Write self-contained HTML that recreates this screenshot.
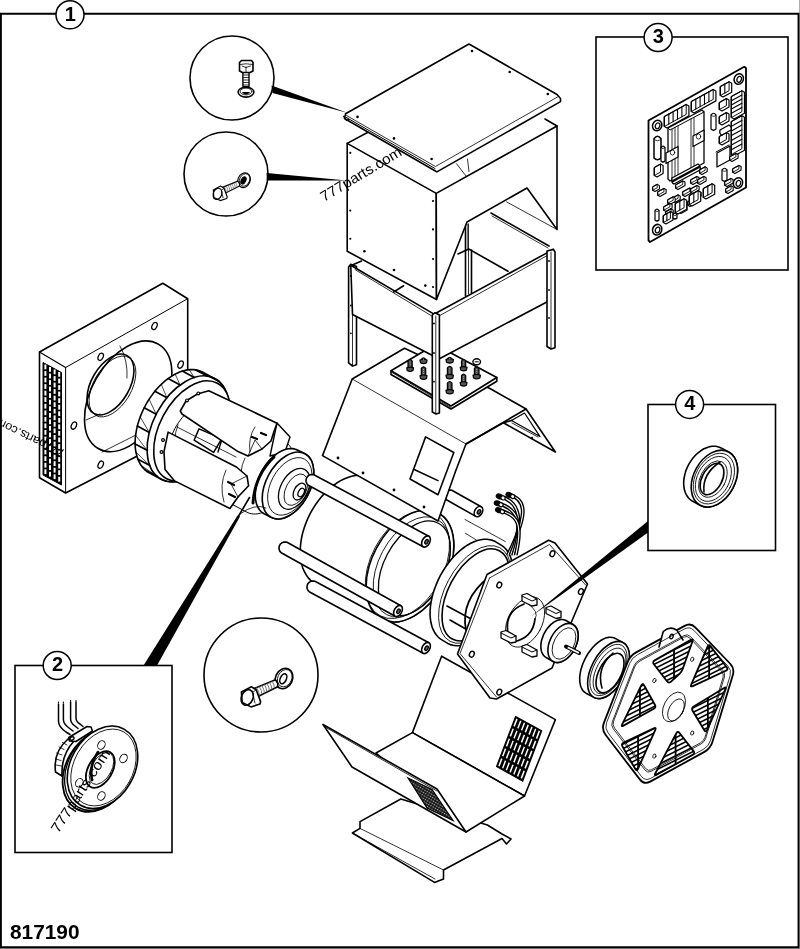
<!DOCTYPE html>
<html><head><meta charset="utf-8">
<style>
html,body{margin:0;padding:0;background:#fff;width:800px;height:949px;overflow:hidden}
svg{display:block;will-change:transform}
.k{fill:none;stroke:#000;stroke-width:1.6;stroke-linejoin:round;stroke-linecap:round}
.w{fill:#fff;stroke:#000;stroke-width:1.6;stroke-linejoin:round;stroke-linecap:round}
.t{fill:none;stroke:#000;stroke-width:0.8;stroke-linecap:round}
.tw{fill:#fff;stroke:#000;stroke-width:0.8}
.b{fill:#000;stroke:none}
.bk{fill:#000;stroke:#000;stroke-width:1}
.num{font-family:"Liberation Sans",sans-serif;font-weight:bold;font-size:19px;fill:#000}
.wm{font-family:"Liberation Sans",sans-serif;font-size:14px;fill:#000}
</style></head>
<body>
<svg width="800" height="949" viewBox="0 0 800 949">
<rect x="0" y="948" width="800" height="1" fill="#999"/><rect x="799.2" y="0" width="0.8" height="949" fill="#999"/>
<path class="k" d="M0.9,947.2 V13.8 H798.5 V947.2 Z" style="stroke-width:1.9;stroke-linejoin:miter"/>
<rect class="k" style="stroke-linejoin:miter" x="596" y="37" width="192" height="233"/>
<rect class="k" style="stroke-linejoin:miter" x="648" y="404.5" width="127.5" height="146"/>
<rect class="k" style="stroke-linejoin:miter" x="15" y="665.5" width="157" height="187"/>
<circle class="k" cx="232" cy="78" r="42"/>
<circle class="k" cx="226" cy="174" r="42"/>
<circle class="k" cx="261" cy="675" r="57"/>
<path class="b" d="M271.5,85.5 L272.5,93 L348,113 Z"/>
<path class="b" d="M266.5,173 L267,180.5 L347,180.5 Z"/>
<path class="w" d="M39.5,352.0 L162.8,283.3 L187.7,298.7 L187.7,430.0 L65.6,493.0 L39.5,477.7 Z"/><path class="k" d="M39.5,352.0 L65.6,367.5" style="stroke-width:1.2"/><path class="k" d="M65.6,367.5 L187.7,298.7" style="stroke-width:1.0"/><path class="k" d="M65.6,367.5 L65.6,493.0" style="stroke-width:1.0"/><path class="bk" d="M43.0,362.5 L61.5,372.5 L61.5,485.0 L43.0,475.0 Z"/><g fill="#fff" stroke="none"><rect x="44.4" y="364.5" width="2.0" height="4.8"/><rect x="44.4" y="371.1" width="2.0" height="4.8"/><rect x="44.4" y="377.6" width="2.0" height="4.8"/><rect x="44.4" y="384.1" width="2.0" height="4.8"/><rect x="44.4" y="390.7" width="2.0" height="4.8"/><rect x="44.4" y="397.2" width="2.0" height="4.8"/><rect x="44.4" y="403.8" width="2.0" height="4.8"/><rect x="44.4" y="410.4" width="2.0" height="4.8"/><rect x="44.4" y="416.9" width="2.0" height="4.8"/><rect x="44.4" y="423.4" width="2.0" height="4.8"/><rect x="44.4" y="430.0" width="2.0" height="4.8"/><rect x="44.4" y="436.6" width="2.0" height="4.8"/><rect x="44.4" y="443.1" width="2.0" height="4.8"/><rect x="44.4" y="449.6" width="2.0" height="4.8"/><rect x="44.4" y="456.2" width="2.0" height="4.8"/><rect x="44.4" y="462.8" width="2.0" height="4.8"/><rect x="44.4" y="469.3" width="2.0" height="4.8"/><rect x="49.0" y="367.0" width="2.0" height="4.8"/><rect x="49.0" y="373.6" width="2.0" height="4.8"/><rect x="49.0" y="380.1" width="2.0" height="4.8"/><rect x="49.0" y="386.6" width="2.0" height="4.8"/><rect x="49.0" y="393.2" width="2.0" height="4.8"/><rect x="49.0" y="399.8" width="2.0" height="4.8"/><rect x="49.0" y="406.3" width="2.0" height="4.8"/><rect x="49.0" y="412.9" width="2.0" height="4.8"/><rect x="49.0" y="419.4" width="2.0" height="4.8"/><rect x="49.0" y="425.9" width="2.0" height="4.8"/><rect x="49.0" y="432.5" width="2.0" height="4.8"/><rect x="49.0" y="439.1" width="2.0" height="4.8"/><rect x="49.0" y="445.6" width="2.0" height="4.8"/><rect x="49.0" y="452.1" width="2.0" height="4.8"/><rect x="49.0" y="458.7" width="2.0" height="4.8"/><rect x="49.0" y="465.2" width="2.0" height="4.8"/><rect x="49.0" y="471.8" width="2.0" height="4.8"/><rect x="53.6" y="369.5" width="2.0" height="4.8"/><rect x="53.6" y="376.1" width="2.0" height="4.8"/><rect x="53.6" y="382.6" width="2.0" height="4.8"/><rect x="53.6" y="389.1" width="2.0" height="4.8"/><rect x="53.6" y="395.7" width="2.0" height="4.8"/><rect x="53.6" y="402.2" width="2.0" height="4.8"/><rect x="53.6" y="408.8" width="2.0" height="4.8"/><rect x="53.6" y="415.4" width="2.0" height="4.8"/><rect x="53.6" y="421.9" width="2.0" height="4.8"/><rect x="53.6" y="428.4" width="2.0" height="4.8"/><rect x="53.6" y="435.0" width="2.0" height="4.8"/><rect x="53.6" y="441.6" width="2.0" height="4.8"/><rect x="53.6" y="448.1" width="2.0" height="4.8"/><rect x="53.6" y="454.6" width="2.0" height="4.8"/><rect x="53.6" y="461.2" width="2.0" height="4.8"/><rect x="53.6" y="467.8" width="2.0" height="4.8"/><rect x="53.6" y="474.3" width="2.0" height="4.8"/><rect x="58.2" y="372.0" width="2.0" height="4.8"/><rect x="58.2" y="378.6" width="2.0" height="4.8"/><rect x="58.2" y="385.1" width="2.0" height="4.8"/><rect x="58.2" y="391.6" width="2.0" height="4.8"/><rect x="58.2" y="398.2" width="2.0" height="4.8"/><rect x="58.2" y="404.8" width="2.0" height="4.8"/><rect x="58.2" y="411.3" width="2.0" height="4.8"/><rect x="58.2" y="417.9" width="2.0" height="4.8"/><rect x="58.2" y="424.4" width="2.0" height="4.8"/><rect x="58.2" y="430.9" width="2.0" height="4.8"/><rect x="58.2" y="437.5" width="2.0" height="4.8"/><rect x="58.2" y="444.1" width="2.0" height="4.8"/><rect x="58.2" y="450.6" width="2.0" height="4.8"/><rect x="58.2" y="457.1" width="2.0" height="4.8"/><rect x="58.2" y="463.7" width="2.0" height="4.8"/><rect x="58.2" y="470.2" width="2.0" height="4.8"/><rect x="58.2" y="476.8" width="2.0" height="4.8"/></g><ellipse class="k" cx="128.2" cy="396.3" rx="36.6" ry="60.2" transform="rotate(30.0 128.2 396.3)"/><ellipse class="k" cx="110.5" cy="384.5" rx="19.0" ry="33.4" transform="rotate(30.0 110.5 384.5)"/><ellipse class="t" cx="112.5" cy="386.5" rx="19.0" ry="33.4" transform="rotate(30.0 112.5 386.5)"/><path class="t" d="M86,420 L100,414 M102,452 L150,428 M120,346 Q128,360 127,378"/><ellipse class="k" cx="100.7" cy="356.8" rx="2.4" ry="3.8" transform="rotate(25.0 100.7 356.8)" style="stroke-width:1.3"/><ellipse class="k" cx="154.5" cy="326.0" rx="2.4" ry="3.8" transform="rotate(25.0 154.5 326.0)" style="stroke-width:1.3"/><ellipse class="k" cx="180.6" cy="364.6" rx="2.4" ry="3.8" transform="rotate(25.0 180.6 364.6)" style="stroke-width:1.3"/><ellipse class="k" cx="73.9" cy="425.6" rx="2.4" ry="3.8" transform="rotate(25.0 73.9 425.6)" style="stroke-width:1.3"/><ellipse class="k" cx="100.7" cy="464.7" rx="2.4" ry="3.8" transform="rotate(25.0 100.7 464.7)" style="stroke-width:1.3"/>
<path class="w" d="M149.2,472.8 L146.6,471.2 L144.3,469.2 L142.2,466.9 L140.3,464.2 L138.7,461.2 L137.4,457.9 L136.4,454.3 L135.6,450.5 L135.2,446.5 L135.1,442.3 L135.3,437.9 L135.9,433.4 L136.7,428.9 L137.8,424.3 L139.2,419.7 L140.9,415.1 L142.9,410.5 L145.1,406.1 L147.5,401.7 L150.2,397.6 L153.1,393.6 L156.1,389.8 L159.3,386.3 L162.6,383.1 L166.0,380.2 L169.5,377.6 L173.1,375.3 L176.6,373.4 L180.2,371.8 L183.7,370.7 L187.2,369.9 L190.6,369.6 L193.8,369.6 L197.0,370.1 L200.0,370.9 L202.8,372.2 L214.8,378.6 L217.4,380.2 L219.7,382.2 L221.9,384.5 L223.7,387.2 L225.3,390.2 L226.6,393.5 L227.7,397.1 L228.4,400.9 L228.8,404.9 L228.9,409.1 L228.7,413.5 L228.2,418.0 L227.3,422.5 L226.2,427.1 L224.8,431.7 L223.1,436.3 L221.1,440.9 L218.9,445.3 L216.5,449.6 L213.8,453.8 L210.9,457.8 L207.9,461.5 L204.7,465.0 L201.4,468.3 L198.0,471.2 L194.5,473.8 L190.9,476.1 L187.4,478.0 L183.8,479.5 L180.3,480.7 L176.8,481.4 L173.4,481.8 L170.2,481.8 L167.0,481.3 L164.0,480.5 L161.2,479.2 Z"/><ellipse class="k" cx="188.0" cy="428.9" rx="35.0" ry="57.0" transform="rotate(28.0 188.0 428.9)"/><path class="k" style="stroke-width:1.7" d="M145.2,470.1 L157.2,476.4 M137.9,459.2 L149.9,465.6 M135.1,444.0 L147.1,450.3 M137.3,426.1 L149.3,432.5 M144.2,407.8 L156.2,414.2 M154.9,391.3 L166.9,397.7 M168.1,378.6 L180.1,385.0 M182.3,371.1 L194.3,377.5 M195.7,369.9 L207.8,376.2 M206.8,374.9 L218.8,381.3"/><path class="t" style="stroke-width:0.7" d="M157.2,476.4 L141.0,465.3 M149.9,465.6 L135.9,452.0 M147.1,450.3 L135.6,435.2 M149.3,432.5 L140.2,416.9 M156.2,414.2 L149.1,399.2 M166.9,397.7 L161.3,384.4 M180.1,385.0 L175.2,374.1 M194.3,377.5 L189.2,369.7 M207.8,376.2 L201.7,371.6"/><ellipse class="w" cx="192.0" cy="431.0" rx="32.5" ry="54.0" transform="rotate(28.0 192.0 431.0)"/><path class="w" d="M177.2,475.3 L175.4,474.2 L173.8,472.8 L172.4,471.2 L171.1,469.3 L170.0,467.2 L169.1,465.0 L168.5,462.5 L168.0,459.8 L167.7,457.0 L167.7,454.1 L167.9,451.0 L168.3,447.9 L168.9,444.7 L169.7,441.5 L170.7,438.3 L171.9,435.0 L173.3,431.9 L174.8,428.7 L176.5,425.7 L178.4,422.8 L180.4,420.0 L182.5,417.3 L184.7,414.9 L187.0,412.6 L189.4,410.5 L191.8,408.7 L194.3,407.1 L196.8,405.7 L199.2,404.6 L201.7,403.8 L204.1,403.2 L206.4,403.0 L208.7,403.0 L210.8,403.3 L212.9,403.8 L214.8,404.7 L284.8,441.7 L286.6,442.8 L288.2,444.2 L289.6,445.8 L290.9,447.7 L292.0,449.8 L292.9,452.0 L293.5,454.5 L294.0,457.2 L294.3,460.0 L294.3,462.9 L294.1,466.0 L293.7,469.1 L293.1,472.3 L292.3,475.5 L291.3,478.7 L290.1,482.0 L288.7,485.1 L287.2,488.3 L285.5,491.3 L283.6,494.2 L281.6,497.0 L279.5,499.7 L277.3,502.1 L275.0,504.4 L272.6,506.5 L270.2,508.3 L267.7,509.9 L265.2,511.3 L262.8,512.4 L260.3,513.2 L257.9,513.8 L255.6,514.0 L253.3,514.0 L251.2,513.7 L249.1,513.2 L247.2,512.3 Z" style="stroke-width:1"/><path class="t" d="M178,425 Q172,440 177,452 M245,458 Q238,472 243,486"/><path class="k" d="M194.1,440.2 L199.0,428.9 L221.8,438.6 L213.6,452.4 Z" style="stroke-width:1.5"/><path class="t" d="M177.0,427.0 L236.0,457.0"/><path class="t" d="M182.0,447.0 L238.0,474.0"/><path class="k" d="M222.0,439.0 L218.0,452.0" style="stroke-width:1.4"/><path class="w" d="M277.0,423.0 L290.0,437.0 L285.0,452.0 L270.0,456.0 Z" style="stroke-width:1.4"/><path class="w" d="M180.3,411.0 L186.0,401.0 L197.4,394.0 L208.8,390.7 L277.0,423.2 L273.8,432.0 L271.0,441.0 L262.0,449.0 L248.0,456.0 L238.0,451.6 L182.0,414.0 Z"/><path class="t" d="M255,427 Q248,437 250,452 M248,456 L255,440 L262,449"/><path class="k" style="stroke-width:2.2" d="M252,437 L257,439 M261,433 L266,435"/><circle class="w" style="stroke-width:1.2" cx="187" cy="400.4" r="1.4"/><circle class="w" style="stroke-width:1.2" cx="198.3" cy="393.4" r="1.4"/><path class="w" d="M168.1,432.1 L236.4,467.0 L247.0,476.0 L248.6,485.8 L238.0,497.0 L229.9,508.5 L174.6,480.9 L165.0,469.5 L164.0,451.6 Z"/><path class="t" d="M226,470 Q219,485 224,502 M238,497 L231,484 L247,476"/><path class="k" style="stroke-width:2.2" d="M228,482 L234,485 M229,494 L235,497"/><circle class="w" style="stroke-width:1.2" cx="163" cy="440" r="1.4"/><circle class="w" style="stroke-width:1.2" cx="161.5" cy="452" r="1.4"/><path class="w" d="M264.1,513.8 L262.5,512.8 L261.0,511.5 L259.6,510.0 L258.5,508.3 L257.5,506.4 L256.7,504.4 L256.0,502.1 L255.6,499.7 L255.3,497.2 L255.3,494.5 L255.4,491.8 L255.7,488.9 L256.3,486.1 L257.0,483.2 L257.9,480.3 L258.9,477.3 L260.2,474.5 L261.6,471.7 L263.1,468.9 L264.8,466.3 L266.6,463.8 L268.5,461.4 L270.5,459.2 L272.6,457.2 L274.8,455.3 L277.0,453.7 L279.2,452.2 L281.5,451.0 L283.7,450.0 L285.9,449.3 L288.1,448.8 L290.2,448.6 L292.3,448.6 L294.3,448.9 L296.1,449.4 L297.9,450.2 L304.9,453.7 L306.5,454.7 L308.0,456.0 L309.4,457.5 L310.5,459.2 L311.5,461.1 L312.3,463.1 L313.0,465.4 L313.4,467.8 L313.7,470.3 L313.7,473.0 L313.6,475.7 L313.3,478.6 L312.7,481.4 L312.0,484.3 L311.1,487.2 L310.1,490.2 L308.8,493.0 L307.4,495.8 L305.9,498.6 L304.2,501.2 L302.4,503.7 L300.5,506.1 L298.5,508.3 L296.4,510.3 L294.2,512.2 L292.0,513.8 L289.8,515.3 L287.5,516.5 L285.3,517.5 L283.1,518.2 L280.9,518.7 L278.8,518.9 L276.7,518.9 L274.7,518.6 L272.9,518.1 L271.1,517.3 Z"/><ellipse class="w" cx="288.0" cy="485.5" rx="22.0" ry="36.0" transform="rotate(28.0 288.0 485.5)"/><ellipse class="t" cx="289.8" cy="486.4" rx="19.0" ry="31.0" transform="rotate(28.0 289.8 486.4)"/><ellipse class="k" cx="294.2" cy="488.8" rx="13.5" ry="22.0" transform="rotate(28.0 294.2 488.8)" style="stroke-width:1.3"/><ellipse class="t" cx="295.9" cy="489.7" rx="10.0" ry="17.0" transform="rotate(28.0 295.9 489.7)"/><ellipse class="k" cx="299.5" cy="491.6" rx="5.5" ry="9.0" transform="rotate(28.0 299.5 491.6)" style="stroke-width:1.3"/><ellipse class="k" cx="301.2" cy="492.5" rx="2.8" ry="4.5" transform="rotate(28.0 301.2 492.5)" style="stroke-width:1.3"/><path class="k" style="stroke-width:3;stroke-dasharray:1.2 1.2" d="M253,503 Q255,475 274,457"/><path class="t" d="M240,514 Q255,503 266,508"/>
<path class="b" d="M143.5,665.5 L157,665.5 L240,516.5 L237.5,515.5 Z"/>
<path class="k" style="stroke-width:1.6" d="M238,517 L249.5,497.5"/>
<path class="w" d="M447.3,500.3 L446.5,499.7 L445.8,499.1 L445.3,498.3 L444.8,497.4 L444.6,496.5 L444.5,495.6 L444.6,494.6 L444.8,493.7 L445.2,492.8 L445.8,492.0 L446.4,491.3 L447.2,490.8 L448.1,490.3 L449.0,490.1 L449.9,490.0 L450.9,490.1 L451.8,490.3 L452.7,490.7 L481.2,506.8 L475.8,516.4 Z"/><ellipse class="w" cx="478.5" cy="511.6" rx="3.8" ry="5.5" transform="rotate(29.5 478.5 511.6)"/><ellipse class="w" cx="479.0" cy="511.9" rx="1.5" ry="2.4" transform="rotate(29.5 479.0 511.9)" style="stroke-width:1.3;fill:#666"/>
<path class="t" d="M465,519.5 L505.3,541.5 M465.4,533.3 L476.4,540"/>
<path class="w" d="M315.8,584.0 L313.0,582.2 L310.4,580.1 L308.1,577.6 L306.1,574.7 L304.3,571.5 L302.8,568.0 L301.7,564.2 L300.9,560.1 L300.4,555.8 L300.2,551.4 L300.4,546.8 L300.9,542.0 L301.7,537.2 L302.8,532.4 L304.3,527.5 L306.1,522.6 L308.1,517.8 L310.4,513.2 L313.0,508.6 L315.8,504.2 L318.9,500.1 L322.1,496.1 L325.5,492.4 L329.0,489.1 L332.7,486.0 L336.4,483.3 L340.2,480.9 L344.0,479.0 L347.8,477.4 L351.6,476.2 L355.3,475.4 L359.0,475.1 L362.5,475.2 L365.9,475.7 L369.1,476.7 L372.2,478.0 L438.2,513.0 L441.0,514.8 L443.6,516.9 L445.9,519.4 L447.9,522.3 L449.7,525.5 L451.2,529.0 L452.3,532.8 L453.1,536.9 L453.6,541.2 L453.8,545.6 L453.6,550.2 L453.1,555.0 L452.3,559.8 L451.2,564.6 L449.7,569.5 L447.9,574.4 L445.9,579.2 L443.6,583.8 L441.0,588.4 L438.2,592.8 L435.1,596.9 L431.9,600.9 L428.5,604.6 L425.0,607.9 L421.3,611.0 L417.6,613.7 L413.8,616.1 L410.0,618.0 L406.2,619.6 L402.4,620.8 L398.7,621.6 L395.0,621.9 L391.5,621.8 L388.1,621.3 L384.9,620.3 L381.8,619.0 Z"/><ellipse class="w" cx="410.0" cy="566.0" rx="38.0" ry="60.0" transform="rotate(28.0 410.0 566.0)"/><ellipse class="t" cx="407.4" cy="564.6" rx="36.5" ry="58.0" transform="rotate(28.0 407.4 564.6)"/><ellipse class="t" cx="411.8" cy="566.9" rx="33.0" ry="54.0" transform="rotate(28.0 411.8 566.9)"/><ellipse class="k" cx="414.4" cy="568.3" rx="30.5" ry="51.0" transform="rotate(28.0 414.4 568.3)" style="stroke-width:1.3"/>
<path class="w" d="M310.1,592.3 L309.3,591.7 L308.5,591.0 L307.9,590.1 L307.4,589.2 L307.1,588.2 L307.0,587.2 L307.1,586.1 L307.3,585.1 L307.7,584.1 L308.3,583.3 L309.0,582.5 L309.9,581.9 L310.8,581.4 L311.8,581.1 L312.8,581.0 L313.9,581.1 L314.9,581.3 L315.9,581.7 L428.9,642.7 L423.1,653.3 Z"/><ellipse class="w" cx="426.0" cy="648.0" rx="3.8" ry="6.0" transform="rotate(28.4 426.0 648.0)"/><ellipse class="w" cx="426.5" cy="648.3" rx="1.5" ry="2.4" transform="rotate(28.4 426.5 648.3)" style="stroke-width:1.3;fill:#666"/>
<path class="w" d="M309.2,485.8 L308.3,485.2 L307.5,484.5 L306.9,483.7 L306.4,482.7 L306.1,481.7 L306.0,480.7 L306.1,479.6 L306.3,478.6 L306.7,477.7 L307.3,476.8 L308.0,476.0 L308.8,475.4 L309.8,474.9 L310.8,474.6 L311.8,474.5 L312.9,474.6 L313.9,474.8 L314.8,475.2 L428.8,536.2 L423.2,546.8 Z"/><ellipse class="w" cx="426.0" cy="541.5" rx="3.8" ry="6.0" transform="rotate(28.2 426.0 541.5)"/><ellipse class="w" cx="426.5" cy="541.8" rx="1.5" ry="2.4" transform="rotate(28.2 426.5 541.8)" style="stroke-width:1.3;fill:#666"/>
<path class="w" d="M282.1,553.2 L281.2,552.7 L280.5,551.9 L279.8,551.1 L279.4,550.1 L279.1,549.1 L279.0,548.1 L279.1,547.0 L279.3,546.0 L279.8,545.1 L280.3,544.2 L281.1,543.5 L281.9,542.8 L282.9,542.4 L283.9,542.1 L284.9,542.0 L286.0,542.1 L287.0,542.3 L287.9,542.8 L400.9,605.8 L395.1,616.2 Z"/><ellipse class="w" cx="398.0" cy="611.0" rx="3.8" ry="6.0" transform="rotate(29.1 398.0 611.0)"/><ellipse class="w" cx="398.5" cy="611.3" rx="1.5" ry="2.4" transform="rotate(29.1 398.5 611.3)" style="stroke-width:1.3;fill:#666"/>
<path class="w" d="M352.2,379.0 L404.5,348.2 L490.4,388.7 L526.1,409.0 L555.4,452.0 L503.4,422.8 L466.0,444.0 L456.0,470.0 L438.0,521.0 L322.5,455.6 Z"/><path class="t" d="M352.2,379.0 L466.0,444.0"/><path class="k" d="M466.0,444.0 L526.1,409.0"/><path class="k" d="M503.4,422.8 L511.5,420.4"/><path class="k" d="M511.5,420.4 L524.5,413.0 L540.0,436.6 Z" style="stroke-width:1.2"/><path class="t" d="M512.0,423.0 L538.0,437.0"/><circle class="b" cx="532.0" cy="438.0" r="1.2"/><path class="k" d="M425.6,436.9 L453.8,452.5 L438.0,494.7 L410.0,479.0 Z"/><path class="k" d="M414.7,469.7 L438.0,480.6"/><circle class="b" cx="338.0" cy="458.0" r="1.4"/><circle class="b" cx="363.0" cy="473.0" r="1.4"/><circle class="b" cx="394.0" cy="490.0" r="1.4"/><circle class="b" cx="424.0" cy="507.0" r="1.4"/>
<path class="w" d="M391.0,370.8 L435.0,344.5 L496.8,377.5 L496.8,381.2 L451.0,409.0 L391.0,374.5 Z"/><path class="k" d="M391.0,370.8 L451.0,406.0 L496.8,377.5"/><path class="t" d="M392.0,372.5 L451.0,407.5"/>
<path d="M408.0,368.4 L408.0,361 Q410.1,358 412.2,361 L412.2,368.4 Z" fill="#444" stroke="#000" stroke-width="1.2"/><path d="M406.8,367.9 Q410.1,366.4 413.5,367.9 L413.0,370.59999999999997 Q410.1,372.4 407.2,370.59999999999997 Z" fill="#555" stroke="#000" stroke-width="1.2"/><path d="M410.1,361.5 V366.4" stroke="#bbb" stroke-width="0.8" stroke-dasharray="1.2 0.8"/>
<path d="M421.3,360.5 L421.3,359.3 Q423.5,356.3 425.7,359.3 L425.7,360.5 Z" fill="#444" stroke="#000" stroke-width="1.2"/><path d="M420.0,360.0 Q423.5,358.5 427.0,360.0 L426.5,362.7 Q423.5,364.5 420.5,362.7 Z" fill="#555" stroke="#000" stroke-width="1.2"/><path d="M423.5,359.8 V358.5" stroke="#bbb" stroke-width="0.8" stroke-dasharray="1.2 0.8"/>
<path d="M421.3,376.25 L421.3,368.3 Q423.5,365.3 425.7,368.3 L425.7,376.25 Z" fill="#444" stroke="#000" stroke-width="1.2"/><path d="M420.0,375.75 Q423.5,374.25 427.0,375.75 L426.5,378.45 Q423.5,380.25 420.5,378.45 Z" fill="#555" stroke="#000" stroke-width="1.2"/><path d="M423.5,368.8 V374.25" stroke="#bbb" stroke-width="0.8" stroke-dasharray="1.2 0.8"/>
<path d="M447.4,360 L447.4,358.75 Q449.7,355.75 452.0,358.75 L452.0,360 Z" fill="#444" stroke="#000" stroke-width="1.2"/><path d="M446.0,359.5 Q449.7,358 453.4,359.5 L452.9,362.2 Q449.7,364 446.5,362.2 Z" fill="#555" stroke="#000" stroke-width="1.2"/><path d="M449.7,359.25 V358" stroke="#bbb" stroke-width="0.8" stroke-dasharray="1.2 0.8"/>
<path d="M447.4,375.7 L447.4,367.75 Q449.7,364.75 452.0,367.75 L452.0,375.7 Z" fill="#444" stroke="#000" stroke-width="1.2"/><path d="M446.0,375.2 Q449.7,373.7 453.4,375.2 L452.9,377.9 Q449.7,379.7 446.5,377.9 Z" fill="#555" stroke="#000" stroke-width="1.2"/><path d="M449.7,368.25 V373.7" stroke="#bbb" stroke-width="0.8" stroke-dasharray="1.2 0.8"/>
<path d="M447.4,390.9 L447.4,383 Q449.7,380 452.0,383 L452.0,390.9 Z" fill="#444" stroke="#000" stroke-width="1.2"/><path d="M446.0,390.4 Q449.7,388.9 453.4,390.4 L452.9,393.09999999999997 Q449.7,394.9 446.5,393.09999999999997 Z" fill="#555" stroke="#000" stroke-width="1.2"/><path d="M449.7,383.5 V388.9" stroke="#bbb" stroke-width="0.8" stroke-dasharray="1.2 0.8"/>
<path d="M461.5,367.8 L461.5,361 Q463.6,358 465.7,361 L465.7,367.8 Z" fill="#444" stroke="#000" stroke-width="1.2"/><path d="M460.2,367.3 Q463.6,365.8 467.0,367.3 L466.5,370.0 Q463.6,371.8 460.7,370.0 Z" fill="#555" stroke="#000" stroke-width="1.2"/><path d="M463.6,361.5 V365.8" stroke="#bbb" stroke-width="0.8" stroke-dasharray="1.2 0.8"/>
<path d="M461.5,383 L461.5,375.6 Q463.6,372.6 465.7,375.6 L465.7,383 Z" fill="#444" stroke="#000" stroke-width="1.2"/><path d="M460.2,382.5 Q463.6,381 467.0,382.5 L466.5,385.2 Q463.6,387 460.7,385.2 Z" fill="#555" stroke="#000" stroke-width="1.2"/><path d="M463.6,376.1 V381" stroke="#bbb" stroke-width="0.8" stroke-dasharray="1.2 0.8"/>
<path d="M474.4,375.7 L474.4,368.3 Q476.7,365.3 479.0,368.3 L479.0,375.7 Z" fill="#444" stroke="#000" stroke-width="1.2"/><path d="M473.0,375.2 Q476.7,373.7 480.4,375.2 L479.9,377.9 Q476.7,379.7 473.5,377.9 Z" fill="#555" stroke="#000" stroke-width="1.2"/><path d="M476.7,368.8 V373.7" stroke="#bbb" stroke-width="0.8" stroke-dasharray="1.2 0.8"/><ellipse class="w" cx="476.7" cy="361.8" rx="3.8" ry="3.0" transform="rotate(0.0 476.7 361.8)" style="stroke-width:1.4"/><path d="M474.7,361.8 H478.7" stroke="#000" stroke-width="1"/>
<g id="frame">
<path class="k" d="M491,213 L549,246"/>
<path class="t" d="M492,216 L548,248"/>
<path class="k" d="M465.5,222 V296 M471.5,250 V293"/>
<path class="t" d="M468.5,224 V294"/>
<path class="k" d="M458,254 L468.75,249 L508,271.25"/>
<path class="w" d="M348.6,267 L350.75,264.3 L356.5,266.5 L356.5,364.7 L352.5,366 L348.6,362.9 Z"/>
<path class="t" d="M352.5,269 V366"/>
<path class="k" d="M350,266 L361.5,261"/>
<path class="w" d="M350.75,265.2 L433.2,313.6 L433,355.7 L352.5,314.5 Z"/>
<path class="t" d="M355.2,269.7 L432.3,316.3"/>
<path class="k" d="M393.7,292 L403.6,285.8"/>
<path class="w" d="M436.7,312.7 L553.4,249.4 L548.75,301 L439.4,358.75 Z"/>
<path class="t" d="M439,316 L550,254"/>
<path class="w" d="M547,251 L553.4,249.4 L555,252 L555,347.8 L551,349 L547,346.5 Z"/>
<path class="t" d="M551,252 V348"/>
<path class="w" d="M432.3,315 L435,312.7 L439.4,315 L439.4,413 L436,414 L432.3,412 Z"/>
<path class="t" d="M435.8,316 V413"/>
<g class="b"><circle cx="350.9" cy="276" r="0.9"/><circle cx="350.9" cy="305.5" r="0.9"/><circle cx="350.9" cy="333.3" r="0.9"/><circle cx="434" cy="323.5" r="0.9"/><circle cx="434" cy="353" r="0.9"/><circle cx="434" cy="381.7" r="0.9"/><circle cx="549" cy="261" r="0.9"/><circle cx="549" cy="290" r="0.9"/><circle cx="549" cy="318" r="0.9"/></g>
</g>
<g id="housing">
<path class="w" d="M347.2,143.4 L436.25,193.4 L436.5,299.5 L347.2,251.25 Z"/>
<path class="w" d="M436.25,193.4 L557,126 L557,229.5 L527,188 L467,222 L436.5,299.5 Z"/>
<path class="t" d="M506.6,201.9 L557,229.5"/>
<path class="k" d="M347.2,143.4 L367.5,132.5 M545,119 L557,126"/>
<path class="t" d="M456.5,163.75 L466,176 M467.5,159 L469,171.5 M467.8,224 V250"/>
<g class="b">
<circle cx="350.3" cy="152.8" r="1.1"/><circle cx="350.3" cy="210.6" r="1.1"/><circle cx="350.3" cy="238.75" r="1.1"/>
<circle cx="364.4" cy="251.25" r="1.3"/><circle cx="394" cy="270" r="1.3"/><circle cx="425.3" cy="285.6" r="1.3"/>
<circle cx="433" cy="201" r="1.1"/><circle cx="433" cy="229.4" r="1.1"/><circle cx="433" cy="259" r="1.1"/><circle cx="433" cy="287" r="1.1"/>
</g>
</g>
<g id="lid">
<path class="w" d="M345.6,113.75 L469,44 L557,94.5 L560.5,98.5 L560.5,101.6 L436.9,171.9 L434.5,170.5 L344.5,118.5 Z"/>
<path class="t" d="M346.5,115.5 L435.5,166.5 L557.5,97"/>
<path class="k" style="stroke-width:1" d="M345.5,117 L435,168.5"/>
<path class="k" style="stroke-width:1.3" d="M343.7,116.3 L346.5,120.5 L348.5,119.5"/>
<g class="b">
<circle cx="472" cy="51" r="1.3"/><circle cx="509.7" cy="72" r="1.3"/><circle cx="547.8" cy="94" r="1.3"/>
<circle cx="357.5" cy="116.9" r="1.3"/><circle cx="394" cy="138.4" r="1.3"/><circle cx="431.6" cy="159" r="1.3"/>
</g>
</g>
<path class="w" d="M360.0,821.6 L400.8,799.0 L487.4,825.0 L502.0,834.0 L511.0,839.0 L506.5,844.0 L502.0,838.5 L443.5,870.0 L443.5,879.0 L434.5,882.4 L352.4,833.0 L360.0,828.4 Z"/><path class="t" d="M360.0,828.4 L443.5,870.0"/><path class="t" d="M355.0,834.5 L435.0,879.0"/><path class="k" d="M360.0,821.6 L487.4,896.0" style="display:none"/>
<path class="w" d="M412.4,732.6 L441.6,656.2 L555.4,719.6 L524.5,796.0 Z"/><path class="bk" d="M515.6,716.6 L541.7,730.8 L522.7,781.1 L496.6,766.4 Z" style="stroke-width:1.2"/><path fill="#fff" d="M516.3,718.4 L517.7,719.2 L514.8,726.7 L513.4,726.0ZM520.1,720.5 L521.4,721.2 L518.5,728.8 L517.2,728.0ZM523.8,722.5 L525.1,723.2 L522.2,730.8 L520.9,730.1ZM527.5,724.5 L528.9,725.3 L526.0,732.8 L524.6,732.1ZM531.3,726.6 L532.6,727.3 L529.7,734.9 L528.4,734.1ZM535.0,728.6 L536.3,729.3 L533.4,736.9 L532.1,736.2ZM538.7,730.6 L540.1,731.3 L537.2,738.9 L535.8,738.2ZM512.5,728.4 L513.9,729.1 L511.0,736.7 L509.6,736.0ZM516.3,730.4 L517.6,731.2 L514.7,738.7 L513.4,738.0ZM520.0,732.5 L521.3,733.2 L518.4,740.8 L517.1,740.0ZM523.7,734.5 L525.1,735.2 L522.2,742.8 L520.8,742.1ZM527.5,736.5 L528.8,737.2 L525.9,744.8 L524.6,744.1ZM531.2,738.5 L532.5,739.3 L529.6,746.8 L528.3,746.1ZM534.9,740.6 L536.3,741.3 L533.4,748.9 L532.0,748.1ZM508.7,738.4 L510.1,739.1 L507.2,746.7 L505.8,745.9ZM512.5,740.4 L513.8,741.1 L510.9,748.7 L509.6,748.0ZM516.2,742.4 L517.5,743.2 L514.6,750.7 L513.3,750.0ZM519.9,744.5 L521.3,745.2 L518.4,752.7 L517.0,752.0ZM523.7,746.5 L525.0,747.2 L522.1,754.8 L520.8,754.0ZM527.4,748.5 L528.7,749.2 L525.8,756.8 L524.5,756.1ZM531.1,750.5 L532.5,751.3 L529.6,758.8 L528.2,758.1ZM504.9,748.3 L506.3,749.1 L503.4,756.6 L502.0,755.9ZM508.7,750.4 L510.0,751.1 L507.1,758.7 L505.8,757.9ZM512.4,752.4 L513.7,753.1 L510.8,760.7 L509.5,760.0ZM516.1,754.4 L517.5,755.1 L514.6,762.7 L513.2,762.0ZM519.9,756.4 L521.2,757.2 L518.3,764.7 L517.0,764.0ZM523.6,758.5 L524.9,759.2 L522.0,766.8 L520.7,766.0ZM527.3,760.5 L528.7,761.2 L525.8,768.8 L524.4,768.1ZM501.1,758.3 L502.5,759.0 L499.6,766.6 L498.2,765.9ZM504.9,760.3 L506.2,761.0 L503.3,768.6 L502.0,767.9ZM508.6,762.3 L509.9,763.1 L507.0,770.6 L505.7,769.9ZM512.3,764.4 L513.7,765.1 L510.8,772.7 L509.4,771.9ZM516.1,766.4 L517.4,767.1 L514.5,774.7 L513.2,774.0ZM519.8,768.4 L521.1,769.2 L518.2,776.7 L516.9,776.0ZM523.5,770.5 L524.9,771.2 L522.0,778.8 L520.6,778.0Z"/><path class="w" d="M412.4,732.6 L524.5,796.0 L466.0,832.0 L376.0,753.0 Z"/><path class="t" d="M412.4,732.6 L524.5,796.0"/><path class="w" d="M323.0,724.5 L437.0,789.0 L466.0,832.0 L352.0,767.0 Z"/><path class="t" d="M325.0,727.0 L437.0,791.0"/><defs><pattern id="mesh" width="2.6" height="2.6" patternUnits="userSpaceOnUse" patternTransform="rotate(30)"><rect width="2.6" height="2.6" fill="#111"/><circle cx="1.3" cy="1.3" r="0.75" fill="#bbb"/></pattern></defs><path d="M408,778 L432,789.5 L453,820.5 L427,808 Z" fill="url(#mesh)" stroke="#000" stroke-width="1.2"/>
<path class="w" d="M442.7,640.4 L440.3,638.9 L438.1,637.0 L436.2,634.8 L434.5,632.2 L433.0,629.4 L431.9,626.2 L431.0,622.8 L430.4,619.1 L430.1,615.2 L430.1,611.1 L430.4,606.9 L431.0,602.5 L431.9,598.1 L433.0,593.6 L434.5,589.1 L436.2,584.6 L438.1,580.1 L440.3,575.7 L442.7,571.5 L445.3,567.4 L448.1,563.5 L451.0,559.8 L454.1,556.3 L457.3,553.1 L460.6,550.1 L463.9,547.5 L467.3,545.2 L470.7,543.3 L474.1,541.7 L477.4,540.6 L480.7,539.7 L483.9,539.3 L487.0,539.3 L489.9,539.7 L492.7,540.4 L495.3,541.6 L500.3,544.6 L502.7,546.1 L504.9,548.0 L506.8,550.2 L508.5,552.8 L510.0,555.6 L511.1,558.8 L512.0,562.2 L512.6,565.9 L512.9,569.8 L512.9,573.9 L512.6,578.1 L512.0,582.5 L511.1,586.9 L510.0,591.4 L508.5,595.9 L506.8,600.4 L504.9,604.9 L502.7,609.3 L500.3,613.5 L497.7,617.6 L494.9,621.5 L492.0,625.2 L488.9,628.7 L485.7,631.9 L482.4,634.9 L479.1,637.5 L475.7,639.8 L472.3,641.7 L468.9,643.3 L465.6,644.4 L462.3,645.3 L459.1,645.7 L456.0,645.7 L453.1,645.3 L450.3,644.6 L447.7,643.4 Z"/><ellipse class="t" cx="474.9" cy="594.5" rx="30.0" ry="53.0" transform="rotate(28.0 474.9 594.5)"/><ellipse class="k" cx="475.8" cy="594.9" rx="27.5" ry="50.0" transform="rotate(28.0 475.8 594.9)"/><path class="k" style="stroke-width:1.8" d="M466,630 Q460,600 489,577"/><path class="k" d="M447,606 L486,627 M450,620 L478,636"/>
<path style="fill:none;stroke:#000;stroke-width:3.8" d="M509.7,495 C528.7,500 526.0,518 508.0,555"/><path style="fill:none;stroke:#fff;stroke-width:1.1" d="M509.7,495 C528.7,500 526.0,518 508.0,555"/><path style="fill:none;stroke:#000;stroke-width:3.8" d="M500,496.4 C519,501.4 525.0,520 510.6,555"/><path style="fill:none;stroke:#fff;stroke-width:1.1" d="M500,496.4 C519,501.4 525.0,520 510.6,555"/><path style="fill:none;stroke:#000;stroke-width:3.8" d="M498,503.3 C517,508.3 524.0,522 513.2,555"/><path style="fill:none;stroke:#fff;stroke-width:1.1" d="M498,503.3 C517,508.3 524.0,522 513.2,555"/><path style="fill:none;stroke:#000;stroke-width:3.8" d="M499.3,510.2 C518.3,515.2 523.0,524 515.8,555"/><path style="fill:none;stroke:#fff;stroke-width:1.1" d="M499.3,510.2 C518.3,515.2 523.0,524 515.8,555"/><ellipse class="bk" cx="509.2" cy="495.0" rx="3.4" ry="2.4" transform="rotate(20.0 509.2 495.0)" style="stroke-width:1"/><ellipse class="w" cx="512.7" cy="496.5" rx="2.2" ry="2.0" transform="rotate(20.0 512.7 496.5)" style="stroke-width:1.2"/><ellipse class="bk" cx="499.5" cy="496.4" rx="3.4" ry="2.4" transform="rotate(20.0 499.5 496.4)" style="stroke-width:1"/><ellipse class="w" cx="503.0" cy="497.9" rx="2.2" ry="2.0" transform="rotate(20.0 503.0 497.9)" style="stroke-width:1.2"/><ellipse class="bk" cx="497.5" cy="503.3" rx="3.4" ry="2.4" transform="rotate(20.0 497.5 503.3)" style="stroke-width:1"/><ellipse class="w" cx="501.0" cy="504.8" rx="2.2" ry="2.0" transform="rotate(20.0 501.0 504.8)" style="stroke-width:1.2"/><ellipse class="bk" cx="498.8" cy="510.2" rx="3.4" ry="2.4" transform="rotate(20.0 498.8 510.2)" style="stroke-width:1"/><ellipse class="w" cx="502.3" cy="511.7" rx="2.2" ry="2.0" transform="rotate(20.0 502.3 511.7)" style="stroke-width:1.2"/>
<path class="w" d="M487.0,574.5 L548.6,540.3 L555.0,543.0 L587.5,584.0 L552.0,668.0 L496.5,699.0 L490.0,698.0 L457.5,654.0 Z"/><path class="t" d="M489.5,578.0 L549.5,544.5 L585.6,585.0"/><path class="t" d="M489.5,578.0 L460.0,653.5 L496.5,697.0"/><ellipse class="k" cx="552.4" cy="553.7" rx="2.3" ry="3.0" transform="rotate(25.0 552.4 553.7)" style="stroke-width:1.4"/><ellipse class="k" cx="499.3" cy="585.0" rx="2.3" ry="3.0" transform="rotate(25.0 499.3 585.0)" style="stroke-width:1.4"/><ellipse class="k" cx="580.9" cy="591.6" rx="2.3" ry="3.0" transform="rotate(25.0 580.9 591.6)" style="stroke-width:1.4"/><ellipse class="k" cx="471.8" cy="654.2" rx="2.3" ry="3.0" transform="rotate(25.0 471.8 654.2)" style="stroke-width:1.4"/><ellipse class="k" cx="499.3" cy="692.1" rx="2.3" ry="3.0" transform="rotate(25.0 499.3 692.1)" style="stroke-width:1.4"/><ellipse class="t" cx="525.0" cy="622.0" rx="17.0" ry="27.0" transform="rotate(28.0 525.0 622.0)"/><path class="k" style="stroke-width:1.8" d="M524,604 Q504,612 508,633 M535,619 Q533,638 513,642"/><path class="t" d="M527,603 Q540,612 535,619 M508,633 Q510,640 513,642"/><path class="w" d="M522.0,595.0 L527.0,593.5 L537.0,599.0 L537.0,605.0 L532.0,606.0 L522.0,601.0 Z" style="stroke-width:1.3"/><path class="k" d="M522.0,596.0 L532.0,601.0 L537.0,599.0" style="stroke-width:1"/><path class="w" d="M546.0,607.5 L551.0,606.0 L561.0,611.5 L561.0,617.5 L556.0,618.5 L546.0,613.5 Z" style="stroke-width:1.3"/><path class="k" d="M546.0,608.5 L556.0,613.5 L561.0,611.5" style="stroke-width:1"/><path class="w" d="M522.0,646.0 L527.0,644.5 L537.0,650.0 L537.0,656.0 L532.0,657.0 L522.0,652.0 Z" style="stroke-width:1.3"/><path class="k" d="M522.0,647.0 L532.0,652.0 L537.0,650.0" style="stroke-width:1"/><path class="w" d="M501.0,632.0 L506.0,630.5 L516.0,636.0 L516.0,642.0 L511.0,643.0 L501.0,638.0 Z" style="stroke-width:1.3"/><path class="k" d="M501.0,633.0 L511.0,638.0 L516.0,636.0" style="stroke-width:1"/>
<path class="b" d="M648,521 L648,532.6 L531.5,616.3 Z"/>
<path class="w" d="M546.1,657.5 L545.2,656.9 L544.3,656.2 L543.5,655.3 L542.8,654.3 L542.2,653.2 L541.7,652.0 L541.3,650.7 L541.1,649.3 L540.9,647.8 L540.9,646.2 L540.9,644.6 L541.1,643.0 L541.4,641.3 L541.8,639.6 L542.4,637.9 L543.0,636.2 L543.7,634.5 L544.5,632.9 L545.4,631.3 L546.4,629.8 L547.5,628.3 L548.6,626.9 L549.8,625.6 L551.0,624.4 L552.3,623.4 L553.5,622.4 L554.9,621.6 L556.2,620.9 L557.5,620.3 L558.8,619.9 L560.1,619.6 L561.3,619.5 L562.6,619.5 L563.7,619.7 L564.8,620.0 L565.9,620.5 L572.9,624.5 L573.8,625.1 L574.7,625.8 L575.5,626.7 L576.2,627.7 L576.8,628.8 L577.3,630.0 L577.7,631.3 L577.9,632.7 L578.1,634.2 L578.1,635.8 L578.1,637.4 L577.9,639.0 L577.6,640.7 L577.2,642.4 L576.6,644.1 L576.0,645.8 L575.3,647.5 L574.5,649.1 L573.6,650.7 L572.6,652.2 L571.5,653.7 L570.4,655.1 L569.2,656.4 L568.0,657.6 L566.7,658.6 L565.5,659.6 L564.1,660.4 L562.8,661.1 L561.5,661.7 L560.2,662.1 L558.9,662.4 L557.7,662.5 L556.4,662.5 L555.3,662.3 L554.2,662.0 L553.1,661.5 Z"/><ellipse class="w" cx="563.0" cy="643.0" rx="13.0" ry="21.0" transform="rotate(28.0 563.0 643.0)"/><ellipse class="t" cx="564.0" cy="643.5" rx="10.0" ry="17.0" transform="rotate(28.0 564.0 643.5)"/><path class="k" d="M567.0,647.0 L579.0,653.0" style="stroke-width:4"/><path class="k" d="M567.0,647.0 L579.0,653.0" style="stroke-width:1.8;stroke:#fff;stroke-dasharray:1 1.3"/><circle class="b" cx="566.0" cy="646.5" r="2"/>
<path class="w" d="M586.0,693.2 L584.8,692.4 L583.7,691.4 L582.7,690.2 L581.8,688.8 L581.1,687.2 L580.5,685.5 L580.1,683.6 L579.8,681.6 L579.7,679.5 L579.7,677.3 L580.0,675.0 L580.3,672.6 L580.8,670.1 L581.5,667.7 L582.3,665.2 L583.3,662.7 L584.4,660.2 L585.6,657.8 L586.9,655.5 L588.3,653.2 L589.9,651.0 L591.5,648.9 L593.1,647.0 L594.9,645.2 L596.7,643.6 L598.5,642.1 L600.3,640.8 L602.1,639.7 L603.9,638.8 L605.7,638.1 L607.4,637.6 L609.1,637.3 L610.8,637.3 L612.3,637.5 L613.8,637.8 L615.2,638.4 L623.1,642.6 L624.3,643.4 L625.4,644.4 L626.4,645.6 L627.3,647.0 L628.0,648.6 L628.6,650.3 L629.0,652.2 L629.3,654.2 L629.4,656.3 L629.4,658.5 L629.1,660.8 L628.8,663.2 L628.3,665.7 L627.6,668.1 L626.8,670.6 L625.8,673.1 L624.7,675.6 L623.5,678.0 L622.2,680.3 L620.8,682.6 L619.2,684.8 L617.6,686.9 L616.0,688.8 L614.2,690.6 L612.4,692.2 L610.6,693.7 L608.8,695.0 L607.0,696.1 L605.2,697.0 L603.4,697.7 L601.7,698.2 L600.0,698.5 L598.3,698.5 L596.8,698.3 L595.3,698.0 L593.9,697.4 Z"/><ellipse class="w" cx="608.5" cy="670.0" rx="17.0" ry="31.0" transform="rotate(28.0 608.5 670.0)"/><ellipse class="t" cx="608.5" cy="670.0" rx="15.0" ry="28.0" transform="rotate(28.0 608.5 670.0)"/><ellipse class="t" cx="609.5" cy="671.0" rx="13.0" ry="25.0" transform="rotate(28.0 609.5 671.0)"/><ellipse class="k" cx="610.0" cy="673.0" rx="11.0" ry="21.5" transform="rotate(28.0 610.0 673.0)"/><path class="k" d="M602,688 Q596,668 613,653"/>
<defs><clipPath id="fw0"><path d="M653.9,664.2 Q652.1,661.9 654.7,660.4 L690.9,639.8 Q693.5,638.3 692.5,641.2 L682.7,669.0 Q681.7,671.8 679.5,673.8 L671.1,681.6 Q668.9,683.6 667.0,681.2 Z"/></clipPath><clipPath id="fw1"><path d="M707.6,646.6 Q708.8,643.9 710.6,646.3 L726.7,667.2 Q728.6,669.6 725.8,670.8 L692.8,686.1 Q690.1,687.3 691.2,684.6 Z"/></clipPath><clipPath id="fw2"><path d="M724.1,688.0 Q726.6,686.4 725.4,689.2 L707.1,730.0 Q705.9,732.7 704.3,730.2 L692.6,710.7 Q691.1,708.1 693.7,706.6 Z"/></clipPath><clipPath id="fw3"><path d="M676.2,733.3 Q677.6,730.6 679.5,733.0 L693.4,750.9 Q695.3,753.3 692.7,754.7 L656.5,774.6 Q653.9,776.1 655.3,773.4 Z"/></clipPath><clipPath id="fw4"><path d="M653.8,728.3 Q656.5,727.1 655.3,729.8 L638.0,768.8 Q636.8,771.6 635.3,769.0 L622.5,746.5 Q621.0,743.9 623.7,742.6 Z"/></clipPath><clipPath id="fw5"><path d="M641.3,685.4 Q642.6,682.7 644.0,685.3 L654.9,704.7 Q656.4,707.3 653.8,708.8 L623.5,725.6 Q620.9,727.1 622.2,724.4 Z"/></clipPath></defs><path class="w" style="stroke-width:1.8" d="M684.6,625.9 Q690.7,622.5 695.5,627.6 L730.0,663.5 Q734.8,668.6 732.8,675.3 L712.5,741.8 Q710.5,748.5 704.4,751.9 L650.2,781.6 Q644.1,785.0 639.8,779.4 L605.7,735.0 Q601.4,729.4 603.9,722.9 L627.5,662.3 Q630.0,655.8 636.1,652.4 Z"/><path d="M657,650 L663.25,631.5 Q670,625.5 677,630.4 L684,642 L683,646 Z" fill="#fff" stroke="none"/><path class="k" style="stroke-width:1.6" d="M659,647 L663.25,631.5 Q670,625.5 677,630.4 L683,640"/><ellipse class="k" cx="671.5" cy="636.5" rx="1.6" ry="2.3" transform="rotate(25.0 671.5 636.5)" style="stroke-width:1.3"/><path class="t" d="M684.4,628.9 Q689.7,626.1 693.9,630.4 L727.7,665.8 Q731.8,670.1 730.1,675.8 L710.4,740.7 Q708.6,746.4 703.4,749.3 L650.5,778.4 Q645.2,781.2 641.5,776.5 L608.1,732.9 Q604.4,728.2 606.6,722.6 L629.6,663.5 Q631.7,657.9 637.0,655.0 Z"/><path class="t" d="M684.1,635.5 Q687.6,633.6 690.4,636.5 L722.8,670.3 Q725.5,673.2 724.4,677.1 L705.8,738.1 Q704.6,741.9 701.1,743.9 L651.0,771.4 Q647.5,773.3 645.1,770.2 L613.2,728.7 Q610.8,725.5 612.3,721.8 L634.0,665.9 Q635.4,662.2 638.9,660.3 Z"/><path class="t" d="M683.7,637.1 Q687.2,635.2 689.9,638.1 L721.4,671.0 Q724.2,673.9 723.0,677.7 L705.0,737.2 Q703.8,741.0 700.3,742.9 L651.5,769.7 Q648.0,771.7 645.6,768.5 L614.6,728.1 Q612.1,725.0 613.6,721.2 L634.7,666.9 Q636.2,663.1 639.7,661.2 Z"/><g clip-path="url(#fw0)"><path class="k" style="stroke-width:1.6" d="M647.06325,618.327 L698.47225,592.6225 M647.06325,622.827 L698.47225,597.1225 M647.06325,627.327 L698.47225,601.6225 M647.06325,631.827 L698.47225,606.1225 M647.06325,636.327 L698.47225,610.6225 M647.06325,640.827 L698.47225,615.1225 M647.06325,645.327 L698.47225,619.6225 M647.06325,649.827 L698.47225,624.1225 M647.06325,654.327 L698.47225,628.6225 M647.06325,658.827 L698.47225,633.1225 M647.06325,663.327 L698.47225,637.6225 M647.06325,667.827 L698.47225,642.1225 M647.06325,672.327 L698.47225,646.6225 M647.06325,676.827 L698.47225,651.1225 M647.06325,681.327 L698.47225,655.6225 M647.06325,685.827 L698.47225,660.1225 M647.06325,690.327 L698.47225,664.6225 M647.06325,694.827 L698.47225,669.1225 M647.06325,699.327 L698.47225,673.6225 M647.06325,703.827 L698.47225,678.1225 M647.06325,708.327 L698.47225,682.6225 M647.06325,712.827 L698.47225,687.1225 M647.06325,717.327 L698.47225,691.6225 M647.06325,721.827 L698.47225,696.1225"/><path class="k" style="stroke-width:1.8" d="M674.0250000000001,618.327 L674.0250000000001,703.588"/></g><path class="k" style="stroke-width:1.8" d="M653.9,664.2 Q652.1,661.9 654.7,660.4 L690.9,639.8 Q693.5,638.3 692.5,641.2 L682.7,669.0 Q681.7,671.8 679.5,673.8 L671.1,681.6 Q668.9,683.6 667.0,681.2 Z"/><g clip-path="url(#fw1)"><path class="k" style="stroke-width:1.6" d="M685.0516666666666,623.8926666666666 L733.5716666666666,599.6326666666666 M685.0516666666666,628.3926666666666 L733.5716666666666,604.1326666666666 M685.0516666666666,632.8926666666666 L733.5716666666666,608.6326666666666 M685.0516666666666,637.3926666666666 L733.5716666666666,613.1326666666666 M685.0516666666666,641.8926666666666 L733.5716666666666,617.6326666666666 M685.0516666666666,646.3926666666666 L733.5716666666666,622.1326666666666 M685.0516666666666,650.8926666666666 L733.5716666666666,626.6326666666666 M685.0516666666666,655.3926666666666 L733.5716666666666,631.1326666666666 M685.0516666666666,659.8926666666666 L733.5716666666666,635.6326666666666 M685.0516666666666,664.3926666666666 L733.5716666666666,640.1326666666666 M685.0516666666666,668.8926666666666 L733.5716666666666,644.6326666666666 M685.0516666666666,673.3926666666666 L733.5716666666666,649.1326666666666 M685.0516666666666,677.8926666666666 L733.5716666666666,653.6326666666666 M685.0516666666666,682.3926666666666 L733.5716666666666,658.1326666666666 M685.0516666666666,686.8926666666666 L733.5716666666666,662.6326666666666 M685.0516666666666,691.3926666666666 L733.5716666666666,667.1326666666666 M685.0516666666666,695.8926666666666 L733.5716666666666,671.6326666666666 M685.0516666666666,700.3926666666666 L733.5716666666666,676.1326666666666 M685.0516666666666,704.8926666666666 L733.5716666666666,680.6326666666666 M685.0516666666666,709.3926666666666 L733.5716666666666,685.1326666666666 M685.0516666666666,713.8926666666666 L733.5716666666666,689.6326666666666 M685.0516666666666,718.3926666666666 L733.5716666666666,694.1326666666666 M685.0516666666666,722.8926666666666 L733.5716666666666,698.6326666666666"/><path class="k" style="stroke-width:1.8" d="M709.1333333333332,623.8926666666666 L709.1333333333332,707.3346666666666"/></g><path class="k" style="stroke-width:1.8" d="M707.6,646.6 Q708.8,643.9 710.6,646.3 L726.7,667.2 Q728.6,669.6 725.8,670.8 L692.8,686.1 Q690.1,687.3 691.2,684.6 Z"/><g clip-path="url(#fw2)"><path class="k" style="stroke-width:1.6" d="M686.1033333333334,666.4159999999999 L731.6273333333334,643.654 M686.1033333333334,670.9159999999999 L731.6273333333334,648.154 M686.1033333333334,675.4159999999999 L731.6273333333334,652.654 M686.1033333333334,679.9159999999999 L731.6273333333334,657.154 M686.1033333333334,684.4159999999999 L731.6273333333334,661.654 M686.1033333333334,688.9159999999999 L731.6273333333334,666.154 M686.1033333333334,693.4159999999999 L731.6273333333334,670.654 M686.1033333333334,697.9159999999999 L731.6273333333334,675.154 M686.1033333333334,702.4159999999999 L731.6273333333334,679.654 M686.1033333333334,706.9159999999999 L731.6273333333334,684.154 M686.1033333333334,711.4159999999999 L731.6273333333334,688.654 M686.1033333333334,715.9159999999999 L731.6273333333334,693.154 M686.1033333333334,720.4159999999999 L731.6273333333334,697.654 M686.1033333333334,724.9159999999999 L731.6273333333334,702.154 M686.1033333333334,729.4159999999999 L731.6273333333334,706.654 M686.1033333333334,733.9159999999999 L731.6273333333334,711.154 M686.1033333333334,738.4159999999999 L731.6273333333334,715.654 M686.1033333333334,742.9159999999999 L731.6273333333334,720.154 M686.1033333333334,747.4159999999999 L731.6273333333334,724.654 M686.1033333333334,751.9159999999999 L731.6273333333334,729.154 M686.1033333333334,756.4159999999999 L731.6273333333334,733.654 M686.1033333333334,760.9159999999999 L731.6273333333334,738.154 M686.1033333333334,765.4159999999999 L731.6273333333334,742.654 M686.1033333333334,769.9159999999999 L731.6273333333334,747.154"/><path class="k" style="stroke-width:1.8" d="M707.8666666666667,666.4159999999999 L707.8666666666667,752.7470000000001"/></g><path class="k" style="stroke-width:1.8" d="M724.1,688.0 Q726.6,686.4 725.4,689.2 L707.1,730.0 Q705.9,732.7 704.3,730.2 L692.6,710.7 Q691.1,708.1 693.7,706.6 Z"/><g clip-path="url(#fw3)"><path class="k" style="stroke-width:1.6" d="M648.8789999999999,710.6136666666666 L700.288,684.9091666666666 M648.8789999999999,715.1136666666666 L700.288,689.4091666666666 M648.8789999999999,719.6136666666666 L700.288,693.9091666666666 M648.8789999999999,724.1136666666666 L700.288,698.4091666666666 M648.8789999999999,728.6136666666666 L700.288,702.9091666666666 M648.8789999999999,733.1136666666666 L700.288,707.4091666666666 M648.8789999999999,737.6136666666666 L700.288,711.9091666666666 M648.8789999999999,742.1136666666666 L700.288,716.4091666666666 M648.8789999999999,746.6136666666666 L700.288,720.9091666666666 M648.8789999999999,751.1136666666666 L700.288,725.4091666666666 M648.8789999999999,755.6136666666666 L700.288,729.9091666666666 M648.8789999999999,760.1136666666666 L700.288,734.4091666666666 M648.8789999999999,764.6136666666666 L700.288,738.9091666666666 M648.8789999999999,769.1136666666666 L700.288,743.4091666666666 M648.8789999999999,773.6136666666666 L700.288,747.9091666666666 M648.8789999999999,778.1136666666666 L700.288,752.4091666666666 M648.8789999999999,782.6136666666666 L700.288,756.9091666666666 M648.8789999999999,787.1136666666666 L700.288,761.4091666666666 M648.8789999999999,791.6136666666666 L700.288,765.9091666666666 M648.8789999999999,796.1136666666666 L700.288,770.4091666666666 M648.8789999999999,800.6136666666666 L700.288,774.9091666666666 M648.8789999999999,805.1136666666666 L700.288,779.4091666666666 M648.8789999999999,809.6136666666666 L700.288,783.9091666666666 M648.8789999999999,814.1136666666666 L700.288,788.4091666666666"/><path class="k" style="stroke-width:1.8" d="M675.6,710.6136666666666 L675.6,796.0886666666667"/></g><path class="k" style="stroke-width:1.8" d="M676.2,733.3 Q677.6,730.6 679.5,733.0 L693.4,750.9 Q695.3,753.3 692.7,754.7 L656.5,774.6 Q653.9,776.1 655.3,773.4 Z"/><g clip-path="url(#fw4)"><path class="k" style="stroke-width:1.6" d="M615.98,707.063 L661.5039999999999,684.301 M615.98,711.563 L661.5039999999999,688.801 M615.98,716.063 L661.5039999999999,693.301 M615.98,720.563 L661.5039999999999,697.801 M615.98,725.063 L661.5039999999999,702.301 M615.98,729.563 L661.5039999999999,706.801 M615.98,734.063 L661.5039999999999,711.301 M615.98,738.563 L661.5039999999999,715.801 M615.98,743.063 L661.5039999999999,720.301 M615.98,747.563 L661.5039999999999,724.801 M615.98,752.063 L661.5039999999999,729.301 M615.98,756.563 L661.5039999999999,733.801 M615.98,761.063 L661.5039999999999,738.301 M615.98,765.563 L661.5039999999999,742.801 M615.98,770.063 L661.5039999999999,747.301 M615.98,774.563 L661.5039999999999,751.801 M615.98,779.063 L661.5039999999999,756.301 M615.98,783.563 L661.5039999999999,760.801 M615.98,788.063 L661.5039999999999,765.301 M615.98,792.563 L661.5039999999999,769.801 M615.98,797.063 L661.5039999999999,774.301 M615.98,801.563 L661.5039999999999,778.801 M615.98,806.063 L661.5039999999999,783.301 M615.98,810.563 L661.5039999999999,787.801"/><path class="k" style="stroke-width:1.8" d="M638.1,707.063 L638.1,791.575"/></g><path class="k" style="stroke-width:1.8" d="M653.8,728.3 Q656.5,727.1 655.3,729.8 L638.0,768.8 Q636.8,771.6 635.3,769.0 L622.5,746.5 Q621.0,743.9 623.7,742.6 Z"/><g clip-path="url(#fw5)"><path class="k" style="stroke-width:1.6" d="M615.8516666666667,662.695 L661.3756666666666,639.9330000000001 M615.8516666666667,667.195 L661.3756666666666,644.4330000000001 M615.8516666666667,671.695 L661.3756666666666,648.9330000000001 M615.8516666666667,676.195 L661.3756666666666,653.4330000000001 M615.8516666666667,680.695 L661.3756666666666,657.9330000000001 M615.8516666666667,685.195 L661.3756666666666,662.4330000000001 M615.8516666666667,689.695 L661.3756666666666,666.9330000000001 M615.8516666666667,694.195 L661.3756666666666,671.4330000000001 M615.8516666666667,698.695 L661.3756666666666,675.9330000000001 M615.8516666666667,703.195 L661.3756666666666,680.4330000000001 M615.8516666666667,707.695 L661.3756666666666,684.9330000000001 M615.8516666666667,712.195 L661.3756666666666,689.4330000000001 M615.8516666666667,716.695 L661.3756666666666,693.9330000000001 M615.8516666666667,721.195 L661.3756666666666,698.4330000000001 M615.8516666666667,725.695 L661.3756666666666,702.9330000000001 M615.8516666666667,730.195 L661.3756666666666,707.4330000000001 M615.8516666666667,734.695 L661.3756666666666,711.9330000000001 M615.8516666666667,739.195 L661.3756666666666,716.4330000000001 M615.8516666666667,743.695 L661.3756666666666,720.9330000000001 M615.8516666666667,748.195 L661.3756666666666,725.4330000000001 M615.8516666666667,752.695 L661.3756666666666,729.9330000000001 M615.8516666666667,757.195 L661.3756666666666,734.4330000000001 M615.8516666666667,761.695 L661.3756666666666,738.9330000000001 M615.8516666666667,766.195 L661.3756666666666,743.4330000000001"/><path class="k" style="stroke-width:1.8" d="M639.9333333333333,662.695 L639.9333333333333,747.1"/></g><path class="k" style="stroke-width:1.8" d="M641.3,685.4 Q642.6,682.7 644.0,685.3 L654.9,704.7 Q656.4,707.3 653.8,708.8 L623.5,725.6 Q620.9,727.1 622.2,724.4 Z"/><ellipse class="t" cx="674.0" cy="707.0" rx="10.0" ry="16.0" transform="rotate(28.0 674.0 707.0)"/><ellipse class="t" cx="676.0" cy="710.0" rx="7.0" ry="12.0" transform="rotate(28.0 676.0 710.0)"/><ellipse class="t" cx="692.2" cy="659.3" rx="1.5" ry="2.2" transform="rotate(20.0 692.2 659.3)"/><ellipse class="t" cx="654.4" cy="680.5" rx="1.5" ry="2.2" transform="rotate(20.0 654.4 680.5)"/><ellipse class="t" cx="692.2" cy="733.0" rx="1.5" ry="2.2" transform="rotate(20.0 692.2 733.0)"/><ellipse class="t" cx="654.4" cy="756.1" rx="1.5" ry="2.2" transform="rotate(20.0 654.4 756.1)"/>
<ellipse class="w" cx="284.0" cy="678.5" rx="8.5" ry="10.5" transform="rotate(25.0 284.0 678.5)" style="stroke-width:1.6"/><ellipse class="t" cx="284.8" cy="678.2" rx="7.0" ry="9.0" transform="rotate(25.0 284.8 678.2)"/><ellipse class="w" cx="283.3" cy="678.8" rx="3.0" ry="5.3" transform="rotate(25.0 283.3 678.8)" style="stroke-width:1.6"/><path class="w" d="M254.0,688.5 L275.5,679.8 L277.7,683.2 L277.7,686.8 L257.0,697.0 Z" style="stroke-width:1.6"/><path style="fill:none;stroke:#666;stroke-width:0.8999999999999999" d="M256.6,687.5 Q259.2,691.6 259.5,695.8 M259.2,686.4 Q261.8,690.5 262.0,694.5 M261.7,685.4 Q264.3,689.3 264.5,693.3 M264.3,684.3 Q266.8,688.2 266.9,692.1 M266.9,683.2 Q269.4,687.0 269.4,690.9 M269.5,682.2 Q271.9,685.9 271.9,689.6 M272.1,681.1 Q274.4,684.8 274.4,688.4"/><path class="w" d="M241.4,692.0 L251.4,686.8 L256.2,689.8 L260.6,701.6 L260.0,704.0 L251.0,706.9 L242.2,702.5 Z" style="stroke-width:1.6"/><ellipse class="t" cx="247.2" cy="697.5" rx="5.8" ry="8.0" transform="rotate(22.0 247.2 697.5)" style="stroke-width:1.6"/><path class="t" d="M252.5,692.5 L256.2,689.8"/><path class="t" d="M252.5,692.5 L255.0,703.0"/>
<ellipse class="w" cx="244.0" cy="180.2" rx="6.1" ry="7.6" transform="rotate(25.0 244.0 180.2)" style="stroke-width:1.152"/><ellipse class="t" cx="244.6" cy="180.0" rx="5.0" ry="6.5" transform="rotate(25.0 244.6 180.0)"/><ellipse class="bk" cx="243.5" cy="180.4" rx="2.2" ry="3.8" transform="rotate(25.0 243.5 180.4)" style="stroke-width:1.152"/><path class="w" d="M222.4,187.4 L237.9,181.1 L239.5,183.6 L239.5,186.1 L224.6,193.5 Z" style="stroke-width:1.152"/><path style="fill:none;stroke:#666;stroke-width:0.704" d="M224.3,186.6 Q226.2,189.6 226.4,192.6 M226.1,185.9 Q228.0,188.8 228.1,191.7 M228.0,185.1 Q229.8,188.0 229.9,190.8 M229.8,184.4 Q231.6,187.2 231.7,190.0 M231.7,183.6 Q233.5,186.3 233.5,189.1 M233.6,182.8 Q235.3,185.5 235.3,188.2 M235.4,182.1 Q237.1,184.7 237.1,187.3"/><path class="w" d="M213.3,189.9 L220.5,186.1 L224.0,188.3 L227.2,196.8 L226.7,198.5 L220.2,200.6 L213.9,197.5 Z" style="stroke-width:1.152"/><ellipse class="t" cx="217.5" cy="193.9" rx="4.2" ry="5.8" transform="rotate(22.0 217.5 193.9)" style="stroke-width:1.152"/><path class="t" d="M221.3,190.3 L224.0,188.3"/><path class="t" d="M221.3,190.3 L223.1,197.8"/>
<ellipse class="w" cx="246.0" cy="92.1" rx="7.9" ry="5.0" transform="rotate(0.0 246.0 92.1)" style="stroke-width:1.6"/>
<ellipse class="t" cx="246.0" cy="91.5" rx="5.8" ry="3.4" transform="rotate(0.0 246.0 91.5)"/>
<path class="bk" d="M242.5,92.5 L249.5,92.5 L246,94 Z" style="stroke-width:1.2"/>
<path class="w" d="M242.9,71.0 L249.0,71.0 L249.0,86.7 L242.9,86.7 Z" style="stroke-width:1.4"/>
<path class="t" d="M243.5,75 H248.5 M243.5,77.5 H248.5 M243.5,80 H248.5 M243.5,82.5 H248.5 M243.5,85 H248.5"/>
<path class="w" d="M239.5,62.5 L241.5,60.5 L251.5,60.5 L253.0,62.5 L253.0,71.0 L250.0,72.5 L242.5,72.5 L239.5,71.0 Z" style="stroke-width:1.6"/>
<path class="t" d="M239.8,64.5 Q246,63 252.8,64.5 M246,67 V72 M242,66 L246,67.5 L250.5,66"/>
<path class="w" d="M692.7,501.3 L691.2,500.3 L689.7,499.2 L688.4,497.8 L687.3,496.3 L686.3,494.6 L685.4,492.8 L684.7,490.9 L684.2,488.8 L683.9,486.6 L683.7,484.3 L683.7,481.9 L683.9,479.5 L684.3,477.0 L684.8,474.6 L685.5,472.1 L686.3,469.6 L687.4,467.2 L688.5,464.8 L689.8,462.6 L691.3,460.4 L692.8,458.3 L694.5,456.3 L696.2,454.5 L698.1,452.8 L700.0,451.3 L701.9,450.0 L703.9,448.8 L706.0,447.9 L708.0,447.2 L710.0,446.6 L712.0,446.3 L713.9,446.2 L715.8,446.3 L717.7,446.7 L719.4,447.2 L721.1,447.9 L728.6,451.9 L730.1,452.9 L731.6,454.0 L732.8,455.4 L734.0,456.9 L735.0,458.6 L735.9,460.4 L736.5,462.4 L737.1,464.5 L737.4,466.6 L737.6,468.9 L737.6,471.3 L737.4,473.7 L737.0,476.2 L736.5,478.7 L735.8,481.1 L734.9,483.6 L733.9,486.0 L732.8,488.4 L731.5,490.7 L730.0,492.8 L728.5,494.9 L726.8,496.9 L725.1,498.7 L723.2,500.4 L721.3,501.9 L719.4,503.2 L717.4,504.4 L715.3,505.3 L713.3,506.0 L711.3,506.6 L709.3,506.9 L707.4,507.0 L705.5,506.9 L703.6,506.6 L701.9,506.0 L700.2,505.3 Z"/><ellipse class="w" cx="714.4" cy="478.6" rx="20.8" ry="30.2" transform="rotate(28.0 714.4 478.6)"/><ellipse class="t" cx="713.9" cy="478.6" rx="18.5" ry="27.0" transform="rotate(28.0 713.9 478.6)"/><ellipse class="t" cx="713.4" cy="478.9" rx="16.0" ry="24.0" transform="rotate(28.0 713.4 478.9)"/><ellipse class="t" cx="712.9" cy="479.1" rx="12.5" ry="19.5" transform="rotate(28.0 712.9 479.1)"/><ellipse class="k" cx="712.0" cy="479.0" rx="10.0" ry="17.0" transform="rotate(28.0 712.0 479.0)" style="stroke-width:1.6"/><path class="k" d="M704,492 Q702,474 720,462"/>
<path class="k" style="stroke-width:1.5" d="M58.5,704 V721 Q58.5,727 66,732 L70,734.5 M63.4,704 V719.5 Q63.4,724 69,728 L73,731 M70.6,702 V719 Q70.6,723 75,726 L78,728.5 M76,702 V718 Q76,721.5 80,724 L83,726.5"/><path class="k" style="stroke-width:1.2" d="M58.5,702 V702.6 M63.4,702 V702.6 M70.6,700.5 V701.1 M76,700.5 V701.1"/><path class="w" style="stroke-width:1.6" d="M55.5,772 Q53,752 68,739 L74,741 Q61,755 62,776 Z"/><path class="t" d="M56,765 L61.5,766 M55.5,759 L61,760.5 M56.5,753 L62,755 M59,747 L64,749.5 M62.5,742.5 L67,745"/><path class="k" d="M62.0,776.0 L66.0,778.0"/><path class="w" d="M68.8,737.5 L87.0,726.5 L91.0,727.0 L92.5,731.0 L76.0,741.5 L69.5,741.0 Z" style="stroke-width:1.5"/><ellipse class="k" cx="72.0" cy="738.5" rx="2.2" ry="1.5" transform="rotate(-28.0 72.0 738.5)" style="stroke-width:1.3"/><ellipse class="w" cx="98.0" cy="770.5" rx="32.0" ry="44.0" transform="rotate(30.0 98.0 770.5)" style="stroke-width:1.8"/><ellipse class="k" cx="100.0" cy="769.0" rx="32.0" ry="44.0" transform="rotate(30.0 100.0 769.0)" style="stroke-width:1.3"/><ellipse class="w" cx="102.5" cy="767.3" rx="31.9" ry="43.8" transform="rotate(30.0 102.5 767.3)"/><ellipse class="t" cx="103.5" cy="767.5" rx="29.5" ry="41.0" transform="rotate(30.0 103.5 767.5)"/><ellipse class="w" cx="100.3" cy="769.5" rx="12.0" ry="20.0" transform="rotate(30.0 100.3 769.5)" style="stroke-width:1.8"/><path class="k" style="stroke-width:2.6" d="M92,780 Q89,765 98,752"/><ellipse class="t" cx="101.5" cy="768.5" rx="10.0" ry="17.5" transform="rotate(30.0 101.5 768.5)"/><ellipse class="t" cx="101.4" cy="745.0" rx="3.5" ry="4.5" transform="rotate(30.0 101.4 745.0)" style="stroke-width:0.9"/><ellipse class="t" cx="123.5" cy="758.4" rx="3.5" ry="4.5" transform="rotate(30.0 123.5 758.4)" style="stroke-width:0.9"/><ellipse class="t" cx="79.3" cy="782.8" rx="3.5" ry="4.5" transform="rotate(30.0 79.3 782.8)" style="stroke-width:0.9"/><ellipse class="t" cx="101.4" cy="796.0" rx="3.5" ry="4.5" transform="rotate(30.0 101.4 796.0)" style="stroke-width:0.9"/>
<path class="w" d="M648.5,120.5 L744.2,66.8 L746.0,68.0 L746.0,187.5 L650.0,242.0 L648.5,240.5 Z" style="stroke-width:1.8"/><ellipse class="k" cx="657.2" cy="125.5" rx="4.6" ry="5.4" transform="rotate(20.0 657.2 125.5)" style="stroke-width:1.5"/><ellipse class="k" cx="657.6" cy="125.8" rx="2.2" ry="3.0" transform="rotate(20.0 657.6 125.8)" style="stroke-width:1.2"/><ellipse class="k" cx="738.8" cy="79.0" rx="4.6" ry="5.4" transform="rotate(20.0 738.8 79.0)" style="stroke-width:1.5"/><ellipse class="k" cx="739.2" cy="79.3" rx="2.2" ry="3.0" transform="rotate(20.0 739.2 79.3)" style="stroke-width:1.2"/><ellipse class="k" cx="738.0" cy="183.0" rx="4.6" ry="5.4" transform="rotate(20.0 738.0 183.0)" style="stroke-width:1.5"/><ellipse class="k" cx="738.4" cy="183.3" rx="2.2" ry="3.0" transform="rotate(20.0 738.4 183.3)" style="stroke-width:1.2"/><ellipse class="k" cx="657.2" cy="229.7" rx="4.6" ry="5.4" transform="rotate(20.0 657.2 229.7)" style="stroke-width:1.5"/><ellipse class="k" cx="657.6" cy="230.0" rx="2.2" ry="3.0" transform="rotate(20.0 657.6 230.0)" style="stroke-width:1.2"/><path class="w" d="M668.0,128.0 L702.0,110.0 L704.0,112.0 L704.0,163.0 L670.0,181.0 L668.0,179.0 Z" style="stroke-width:1.3"/><path class="k" d="M668.0,128.0 L670.0,130.0 L704.0,112.0" style="stroke-width:1"/><path class="t" d="M672,129 V180 M675,127.5 V178.5 M678,126 V177 M691,119 V170 M694,117.5 V168.5"/><path class="w" d="M666.0,153.0 L678.0,146.5 L678.0,157.0 L666.0,163.5 Z" style="stroke-width:1.2"/><ellipse class="t" cx="672.5" cy="152.5" rx="2.2" ry="2.6" transform="rotate(0.0 672.5 152.5)"/><path class="w" d="M693.0,136.0 L704.0,130.0 L704.0,140.5 L693.0,146.5 Z" style="stroke-width:1.2"/><ellipse class="t" cx="698.5" cy="136.5" rx="2.2" ry="2.6" transform="rotate(0.0 698.5 136.5)"/><path class="w" style="stroke-width:1.4" d="M672,178 L698,164 Q701,166 700,170 L674,184 Q671,183 672,178 Z"/><path class="k" style="stroke-width:2.5" d="M673,181 L699,167"/><path class="w" d="M664.4,116.5 L686.2,104.4 L688.9,105.9 L688.9,115.9 L667.0,128.0 L664.4,126.5 Z" style="stroke-width:1.2"/><path class="k" d="M664.4,116.5 L686.2,104.4 L686.2,114.4 L664.4,126.5 Z" style="stroke-width:0.96"/><path class="k" style="stroke-width:1.1" d="M668.8,114.1 L668.8,124.1 M673.1,111.7 L673.1,121.7 M677.5,109.2 L677.5,119.2 M681.9,106.8 L681.9,116.8"/><path class="w" d="M691.4,101.5 L713.2,89.4 L715.9,90.9 L715.9,100.9 L694.0,113.0 L691.4,111.5 Z" style="stroke-width:1.2"/><path class="k" d="M691.4,101.5 L713.2,89.4 L713.2,99.4 L691.4,111.5 Z" style="stroke-width:0.96"/><path class="k" style="stroke-width:1.1" d="M695.8,99.1 L695.8,109.1 M700.1,96.7 L700.1,106.7 M704.5,94.2 L704.5,104.2 M708.9,91.8 L708.9,101.8"/><path class="w" d="M720.4,86.5 L729.1,81.7 L731.7,83.2 L731.7,92.2 L723.0,97.0 L720.4,95.5 Z" style="stroke-width:1.2"/><path class="k" d="M720.4,86.5 L729.1,81.7 L729.1,90.7 L720.4,95.5 Z" style="stroke-width:0.96"/><path class="k" style="stroke-width:1.1" d="M724.8,84.1 L724.8,93.1"/><path class="w" d="M731.4,96.5 L741.9,90.7 L744.5,92.2 L744.5,113.2 L734.0,119.0 L731.4,117.5 Z" style="stroke-width:1.2"/><path class="k" d="M731.4,96.5 L741.9,90.7 L741.9,111.7 L731.4,117.5 Z" style="stroke-width:0.96"/><path class="k" style="stroke-width:1.1" d="M731.4,100.7 L741.9,94.9 M731.4,104.9 L741.9,99.1 M731.4,109.1 L741.9,103.3 M731.4,113.3 L741.9,107.5"/><path class="w" d="M731.4,121.5 L741.9,115.7 L744.5,117.2 L744.5,150.2 L734.0,156.0 L731.4,154.5 Z" style="stroke-width:1.2"/><path class="k" d="M731.4,121.5 L741.9,115.7 L741.9,148.7 L731.4,154.5 Z" style="stroke-width:0.96"/><path class="k" style="stroke-width:1.1" d="M731.4,126.2 L741.9,120.4 M731.4,130.9 L741.9,125.1 M731.4,135.6 L741.9,129.8 M731.4,140.4 L741.9,134.5 M731.4,145.1 L741.9,139.3 M731.4,149.8 L741.9,144.0"/><path class="w" d="M719.4,102.5 L726.4,98.6 L729.0,100.1 L729.0,107.1 L722.0,111.0 L719.4,109.5 Z" style="stroke-width:1.2"/><path class="k" d="M719.4,102.5 L726.4,98.6 L726.4,105.6 L719.4,109.5 Z" style="stroke-width:0.96"/><path class="w" d="M719.4,116.5 L726.4,112.6 L729.0,114.1 L729.0,121.1 L722.0,125.0 L719.4,123.5 Z" style="stroke-width:1.2"/><path class="k" d="M719.4,116.5 L726.4,112.6 L726.4,119.6 L719.4,123.5 Z" style="stroke-width:0.96"/><path class="w" d="M719.4,136.5 L726.4,132.6 L729.0,134.1 L729.0,141.1 L722.0,145.0 L719.4,143.5 Z" style="stroke-width:1.2"/><path class="k" d="M719.4,136.5 L726.4,132.6 L726.4,139.6 L719.4,143.5 Z" style="stroke-width:0.96"/><path class="w" style="stroke-width:1.2" d="M711,115.0 Q713.5,111.5 716,115.0 V129 Q713.5,131.5 711,129 Z"/><path class="t" d="M711,115.0 Q713.5,118.0 716,115.0"/><path class="w" style="stroke-width:1.5" d="M654,138.8 Q657.5,133.9 661,138.8 V158 Q657.5,161.5 654,158 Z"/><path class="t" d="M654,138.8 Q657.5,143.0 661,138.8"/><path class="w" style="stroke-width:1.2" d="M661,147.6 Q663.0,144.8 665,147.6 V161 Q663.0,163.0 661,161 Z"/><path class="t" d="M661,147.6 Q663.0,150.0 665,147.6"/><path class="w" style="stroke-width:1.3" d="M720,130 L729,125 Q732,127 731,130 L722,135 Q719,134 720,130 Z"/><path class="w" style="stroke-width:1.2" d="M722,170.0 Q724.5,166.5 727,170.0 V180 Q724.5,182.5 722,180 Z"/><path class="t" d="M722,170.0 Q724.5,173.0 727,170.0"/><path class="w" style="stroke-width:1.2" d="M707,187.0 Q709.5,183.5 712,187.0 V192 Q709.5,194.5 707,192 Z"/><path class="t" d="M707,187.0 Q709.5,190.0 712,187.0"/><path class="w" style="stroke-width:1.2" d="M655,210.6 Q657.0,207.8 659,210.6 V220 Q657.0,222.0 655,220 Z"/><path class="t" d="M655,210.6 Q657.0,213.0 659,210.6"/><path class="w" d="M717.0,153.0 L730.0,146.0 L730.0,160.0 L717.0,167.0 Z" style="stroke-width:1.3"/><path class="k" d="M716.0,152.0 L729.0,145.0" style="stroke-width:1"/><path class="w" d="M654.4,167.5 L660.5,164.1 L663.1,165.6 L663.1,173.6 L657.0,177.0 L654.4,175.5 Z" style="stroke-width:1.2"/><path class="k" d="M654.4,167.5 L660.5,164.1 L660.5,172.1 L654.4,175.5 Z" style="stroke-width:0.96"/><path class="w" d="M652.8,186.8 L657.2,184.3 L659.4,185.6 L659.4,189.1 L655.0,191.5 L652.8,190.2 Z" style="stroke-width:1.1"/><path class="k" d="M652.8,186.8 L657.2,184.3 L657.2,187.8 L652.8,190.2 Z" style="stroke-width:0.8800000000000001"/><path class="w" d="M657.8,191.8 L663.9,188.4 L666.1,189.6 L666.1,193.1 L660.0,196.5 L657.8,195.2 Z" style="stroke-width:1.1"/><path class="k" d="M657.8,191.8 L663.9,188.4 L663.9,191.9 L657.8,195.2 Z" style="stroke-width:0.8800000000000001"/><path class="w" d="M675.8,184.8 L682.8,180.9 L685.0,182.1 L685.0,185.6 L678.0,189.5 L675.8,188.2 Z" style="stroke-width:1.1"/><path class="k" d="M675.8,184.8 L682.8,180.9 L682.8,184.4 L675.8,188.2 Z" style="stroke-width:0.8800000000000001"/><path class="w" d="M690.8,179.8 L696.9,176.4 L699.1,177.6 L699.1,181.1 L693.0,184.5 L690.8,183.2 Z" style="stroke-width:1.1"/><path class="k" d="M690.8,179.8 L696.9,176.4 L696.9,179.9 L690.8,183.2 Z" style="stroke-width:0.8800000000000001"/><path class="w" d="M697.8,179.8 L703.9,176.4 L706.1,177.6 L706.1,181.1 L700.0,184.5 L697.8,183.2 Z" style="stroke-width:1.1"/><path class="k" d="M697.8,179.8 L703.9,176.4 L703.9,179.9 L697.8,183.2 Z" style="stroke-width:0.8800000000000001"/><path class="w" d="M682.8,191.8 L689.8,187.9 L692.0,189.1 L692.0,192.6 L685.0,196.5 L682.8,195.2 Z" style="stroke-width:1.1"/><path class="k" d="M682.8,191.8 L689.8,187.9 L689.8,191.4 L682.8,195.2 Z" style="stroke-width:0.8800000000000001"/><path class="w" d="M690.8,188.8 L696.9,185.4 L699.1,186.6 L699.1,190.1 L693.0,193.5 L690.8,192.2 Z" style="stroke-width:1.1"/><path class="k" d="M690.8,188.8 L696.9,185.4 L696.9,188.9 L690.8,192.2 Z" style="stroke-width:0.8800000000000001"/><path class="w" d="M672.8,197.8 L678.1,194.8 L680.2,196.1 L680.2,199.6 L675.0,202.5 L672.8,201.2 Z" style="stroke-width:1.1"/><path class="k" d="M672.8,197.8 L678.1,194.8 L678.1,198.3 L672.8,201.2 Z" style="stroke-width:0.8800000000000001"/><path class="w" d="M692.8,194.8 L698.9,191.4 L701.1,192.6 L701.1,196.1 L695.0,199.5 L692.8,198.2 Z" style="stroke-width:1.1"/><path class="k" d="M692.8,194.8 L698.9,191.4 L698.9,194.9 L692.8,198.2 Z" style="stroke-width:0.8800000000000001"/><path class="w" d="M687.8,201.8 L693.1,198.8 L695.2,200.1 L695.2,203.6 L690.0,206.5 L687.8,205.2 Z" style="stroke-width:1.1"/><path class="k" d="M687.8,201.8 L693.1,198.8 L693.1,202.3 L687.8,205.2 Z" style="stroke-width:0.8800000000000001"/><path class="w" d="M667.8,199.8 L673.1,196.8 L675.2,198.1 L675.2,201.6 L670.0,204.5 L667.8,203.2 Z" style="stroke-width:1.1"/><path class="k" d="M667.8,199.8 L673.1,196.8 L673.1,200.3 L667.8,203.2 Z" style="stroke-width:0.8800000000000001"/><path class="w" d="M663.8,206.8 L669.9,203.4 L672.1,204.6 L672.1,208.1 L666.0,211.5 L663.8,210.2 Z" style="stroke-width:1.1"/><path class="k" d="M663.8,206.8 L669.9,203.4 L669.9,206.9 L663.8,210.2 Z" style="stroke-width:0.8800000000000001"/><path class="w" d="M665.8,211.8 L671.1,208.8 L673.2,210.1 L673.2,213.6 L668.0,216.5 L665.8,215.2 Z" style="stroke-width:1.1"/><path class="k" d="M665.8,211.8 L671.1,208.8 L671.1,212.3 L665.8,215.2 Z" style="stroke-width:0.8800000000000001"/><path class="w" d="M678.8,208.8 L684.9,205.4 L687.1,206.6 L687.1,210.1 L681.0,213.5 L678.8,212.2 Z" style="stroke-width:1.1"/><path class="k" d="M678.8,208.8 L684.9,205.4 L684.9,208.9 L678.8,212.2 Z" style="stroke-width:0.8800000000000001"/><path class="w" d="M699.8,169.8 L705.1,166.8 L707.2,168.1 L707.2,171.6 L702.0,174.5 L699.8,173.2 Z" style="stroke-width:1.1"/><path class="k" d="M699.8,169.8 L705.1,166.8 L705.1,170.3 L699.8,173.2 Z" style="stroke-width:0.8800000000000001"/><path class="w" d="M724.8,181.8 L730.9,178.4 L733.1,179.6 L733.1,183.1 L727.0,186.5 L724.8,185.2 Z" style="stroke-width:1.1"/><path class="k" d="M724.8,181.8 L730.9,178.4 L730.9,181.9 L724.8,185.2 Z" style="stroke-width:0.8800000000000001"/><path class="w" d="M725.8,188.8 L731.1,185.8 L733.2,187.1 L733.2,190.6 L728.0,193.5 L725.8,192.2 Z" style="stroke-width:1.1"/><path class="k" d="M725.8,188.8 L731.1,185.8 L731.1,189.3 L725.8,192.2 Z" style="stroke-width:0.8800000000000001"/><path class="w" d="M729.8,156.8 L735.9,153.4 L738.1,154.6 L738.1,158.1 L732.0,161.5 L729.8,160.2 Z" style="stroke-width:1.1"/><path class="k" d="M729.8,156.8 L735.9,153.4 L735.9,156.9 L729.8,160.2 Z" style="stroke-width:0.8800000000000001"/><path class="w" d="M732.8,168.8 L738.9,165.4 L741.1,166.6 L741.1,170.1 L735.0,173.5 L732.8,172.2 Z" style="stroke-width:1.1"/><path class="k" d="M732.8,168.8 L738.9,165.4 L738.9,168.9 L732.8,172.2 Z" style="stroke-width:0.8800000000000001"/><path class="w" d="M675.4,203.5 L684.1,198.7 L686.7,200.2 L686.7,209.2 L678.0,214.0 L675.4,212.5 Z" style="stroke-width:1.2"/><path class="k" d="M675.4,203.5 L684.1,198.7 L684.1,207.7 L675.4,212.5 Z" style="stroke-width:0.96"/><path class="k" style="stroke-width:1.1" d="M679.8,201.1 L679.8,210.1"/><path class="w" d="M689.4,195.5 L698.1,190.7 L700.7,192.2 L700.7,201.2 L692.0,206.0 L689.4,204.5 Z" style="stroke-width:1.2"/><path class="k" d="M689.4,195.5 L698.1,190.7 L698.1,199.7 L689.4,204.5 Z" style="stroke-width:0.96"/><path class="k" style="stroke-width:1.1" d="M693.8,193.1 L693.8,202.1"/><path class="w" d="M703.4,188.5 L712.1,183.7 L714.7,185.2 L714.7,194.2 L706.0,199.0 L703.4,197.5 Z" style="stroke-width:1.2"/><path class="k" d="M703.4,188.5 L712.1,183.7 L712.1,192.7 L703.4,197.5 Z" style="stroke-width:0.96"/><path class="k" style="stroke-width:1.1" d="M707.8,186.1 L707.8,195.1"/><path class="w" d="M663.4,215.5 L670.4,211.6 L673.0,213.1 L673.0,220.1 L666.0,224.0 L663.4,222.5 Z" style="stroke-width:1.2"/><path class="k" d="M663.4,215.5 L670.4,211.6 L670.4,218.6 L663.4,222.5 Z" style="stroke-width:0.96"/><path class="k" style="stroke-width:1.1" d="M666.9,213.6 L666.9,220.6"/><path class="w" style="stroke-width:1.2" d="M673,214.6 Q675.0,211.8 677,214.6 V218 Q675.0,220.0 673,218 Z"/><path class="t" d="M673,214.6 Q675.0,217.0 677,214.6"/>
<circle class="w" style="stroke-width:1.5" cx="70" cy="14.8" r="14"/>
<text class="num" style="font-size:20px" x="70.3" y="20.6" text-anchor="middle">1</text>
<circle class="w" style="stroke-width:1.5" cx="658.1" cy="37.5" r="14"/>
<text class="num" style="font-size:20px" x="658.4" y="43.3" text-anchor="middle">3</text>
<circle class="w" style="stroke-width:1.5" cx="689.6" cy="404.4" r="14"/>
<text class="num" style="font-size:20px" x="689.9" y="410.2" text-anchor="middle">4</text>
<circle class="w" style="stroke-width:1.5" cx="57.2" cy="665.5" r="14"/>
<text class="num" style="font-size:20px" x="57.5" y="671.3" text-anchor="middle">2</text>
<text class="num" x="10" y="938.8" style="font-size:19.5px" textLength="69.5" lengthAdjust="spacingAndGlyphs">817190</text>
<text class="wm" style="font-size:14.5px" transform="translate(324,202) rotate(-31)" textLength="92" lengthAdjust="spacingAndGlyphs">777parts.com</text>
<text class="wm" transform="translate(58.3,833.7) rotate(-57)" textLength="96" lengthAdjust="spacingAndGlyphs">777parts.com</text>
<text class="wm" style="font-size:12px" transform="translate(66,450.5) rotate(-154.3)" textLength="76" lengthAdjust="spacingAndGlyphs">777parts.com</text>
</svg>
</body></html>
